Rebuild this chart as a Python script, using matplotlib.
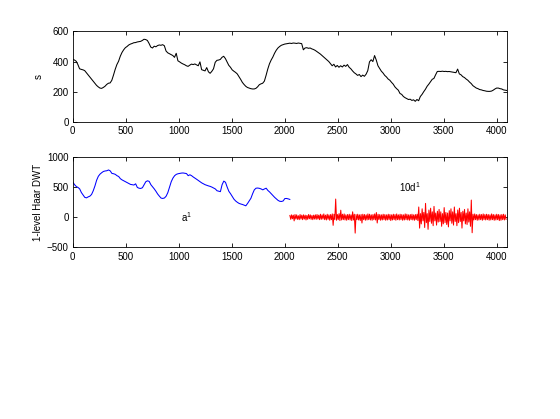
import numpy as np
import matplotlib
matplotlib.use('Agg')
from matplotlib import pyplot as plt

plt.rcParams['font.family'] = ['Liberation Sans', 'DejaVu Sans']

# signal s, read every 16 samples (0 .. 4096)
s_step = 16
s_vals = [
    415, 410, 402, 380, 352, 348, 345, 340, 326, 312, 298, 283, 270, 256, 242, 232,
    224, 222, 228, 236, 248, 256, 258, 275, 310, 348, 380, 402, 435, 460, 478, 492,
    500, 510, 516, 520, 525, 526, 530, 532, 534, 540, 548, 546, 540, 520, 496, 490,
    502, 498, 506, 510, 508, 512, 505, 470, 458, 452, 446, 440, 428, 455, 405, 398,
    390, 384, 379, 372, 368, 376, 383, 380, 384, 378, 372, 398, 346, 342, 338, 360,
    332, 322, 335, 352, 395, 408, 410, 414, 428, 435, 420, 398, 375, 362, 345, 336,
    328, 318, 300, 282, 262, 248, 236, 228, 224, 220, 218, 218, 222, 232, 246, 252,
    256, 270, 308, 350, 385, 410, 430, 455, 475, 490, 500, 508, 512, 516, 518, 520,
    522, 520, 523, 522, 520, 523, 521, 519, 478, 490, 492, 488, 490, 484, 480, 474,
    466, 458, 450, 440, 430, 420, 410, 400, 386, 372, 382, 364, 374, 362, 372, 364,
    376, 368, 380, 362, 352, 338, 326, 318, 308, 314, 300, 310, 302, 316, 340, 398,
    412, 400, 440, 410, 372, 354, 336, 324, 308, 298, 284, 276, 262, 250, 232, 220,
    210, 188, 182, 168, 160, 154, 148, 150, 142, 146, 136, 148, 140, 168, 182, 200,
    216, 236, 250, 266, 282, 288, 312, 334, 335, 334, 336, 334, 335, 333, 334, 332,
    330, 328, 326, 350, 318, 312, 300, 294, 284, 276, 264, 254, 240, 232, 224, 220,
    214, 212, 208, 206, 203, 202, 202, 204, 210, 218, 224, 224, 220, 218, 212, 210,
    208,
]

# approximation a1, read every 16 coefficients (0 .. 2047)
a_step = 16
a1_vals = [
    580, 540, 510, 495, 470, 410, 370, 330, 322, 338, 350, 378, 440, 520, 615, 680,
    716, 740, 760, 768, 772, 785, 770, 728, 722, 712, 690, 676, 640, 620, 605, 590,
    575, 560, 545, 540, 535, 555, 495, 482, 478, 490, 540, 590, 605, 595, 540, 505,
    470, 430, 385, 350, 318, 312, 320, 350, 410, 500, 590, 650, 690, 712, 722, 728,
    733, 735, 730, 725, 690, 705, 690, 668, 650, 630, 610, 590, 570, 555, 540, 530,
    520, 512, 500, 485, 470, 440, 432, 425, 540, 600, 580, 500, 430, 390, 345, 300,
    270, 248, 230, 220, 212, 200, 190, 228, 270, 315, 390, 455, 482, 485, 480, 470,
    455, 470, 482, 445, 420, 390, 360, 330, 305, 280, 265, 262, 270, 310, 312, 305,
    296,
]

# 10 * detail d1, read every 8 coefficients (plotted after the a1 half)
d_step = 8
d1_vals = [
    30, -35, 40, -25, 35, -60, 45, -30, 40, -35, 25, -40, 45, -30, 35, -40,
    40, -30, 35, -45, 30, -35, 45, -25, 40, -35, 30, -40, 35, -30, 40, -35,
    45, -30, 35, -40, 50, -35, 40, -30, 55, -40, 35, -45, 50, -35, 40, -50,
    45, -40, 55, -134, 50, -40, 302, -50, 45, -40, 60, -55, 117, -45, 50, -40,
    55, -45, 40, -50, 45, -40, 50, -45, 40, -55, 90, -45, 50, -263, 45, -40,
    50, -45, 40, -55, 45, -95, 50, -40, 45, -50, 40, -45, 55, -40, 50, -45,
    40, -50, 45, -40, 55, -45, 78, -95, 50, -40, 45, -50, 40, -45, 50, -40,
    45, -50, 40, -45, 50, -40, 45, -55, 40, -45, 50, -40, 45, -50, 55, -40,
    40, -45, 50, -40, 45, -50, 40, -45, 55, -40, 50, -45, 40, -50, 45, -40,
    50, -45, 40, -50, 45, -40, 50, -55, 170, -180, 60, -110, 140, -60, 80, -170,
    230, -90, 60, -200, 120, -70, 150, -100, 90, -140, 180, -60, 70, -130, 100, -80,
    130, -70, 90, -150, 60, -110, 160, -90, 80, -120, 70, -160, 110, -60, 140, -100,
    90, -130, 170, -70, 60, -140, 120, -90, 150, -70, 80, -180, 100, -60, 130, -110,
    70, -120, 140, -80, 90, -150, 285, -257, 50, -45, 55, -40, 45, -50, 40, -45,
    50, -40, 45, -50, 55, -40, 45, -45, 50, -40, 45, -50, 40, -45, 55, -40,
    45, -50, 40, -45, 50, -40, 45, -55, 40, -50, 45, -40, 50, -45, 40, -35,
]

n_half = 2048
top_yticks = [0, 200, 400, 600]
bot_yticks = [-500, 0, 500, 1000]
xticks = [0, 500, 1000, 1500, 2000, 2500, 3000, 3500, 4000]


def style_axes(ax):
    ax.tick_params(direction='in', top=True, right=True, length=3, width=0.6,
                   labelsize=7, pad=3)
    for sp in ax.spines.values():
        sp.set_linewidth(0.6)
    ax.set_xticks(xticks)


fig = plt.figure(figsize=(5.6, 4.19), dpi=100)
ax1 = fig.add_axes([0.13, 0.7093, 0.775, 0.2157])
ax2 = fig.add_axes([0.13, 0.4096, 0.775, 0.2157])

s_x = np.arange(len(s_vals)) * s_step
ax1.plot(s_x, s_vals, color='k', lw=0.75)
ax1.set_xlim(0, 4096)
ax1.set_ylim(0, 600)
ax1.set_yticks(top_yticks)
ax1.set_ylabel('s', fontsize=7, labelpad=6)
style_axes(ax1)

a_x = 1 + np.arange(len(a1_vals)) * a_step
a_x[-1] = n_half
d_x = n_half + 1 + np.arange(len(d1_vals)) * d_step
ax2.plot(a_x, a1_vals, color='b', lw=0.75)
ax2.plot(d_x, d1_vals, color='r', lw=0.75)
ax2.set_xlim(0, 4096)
ax2.set_ylim(-500, 1000)
ax2.set_yticks(bot_yticks)
ax2.set_ylabel('1-level Haar DWT', fontsize=7, labelpad=3)
ax2.text(1020, 0, r'a$^{\mathregular{1}}$', fontsize=7, va='center')
ax2.text(3080, 500, r'10d$^{\mathregular{1}}$', fontsize=7, va='center')
style_axes(ax2)

fig.savefig('out.png', dpi=100)
